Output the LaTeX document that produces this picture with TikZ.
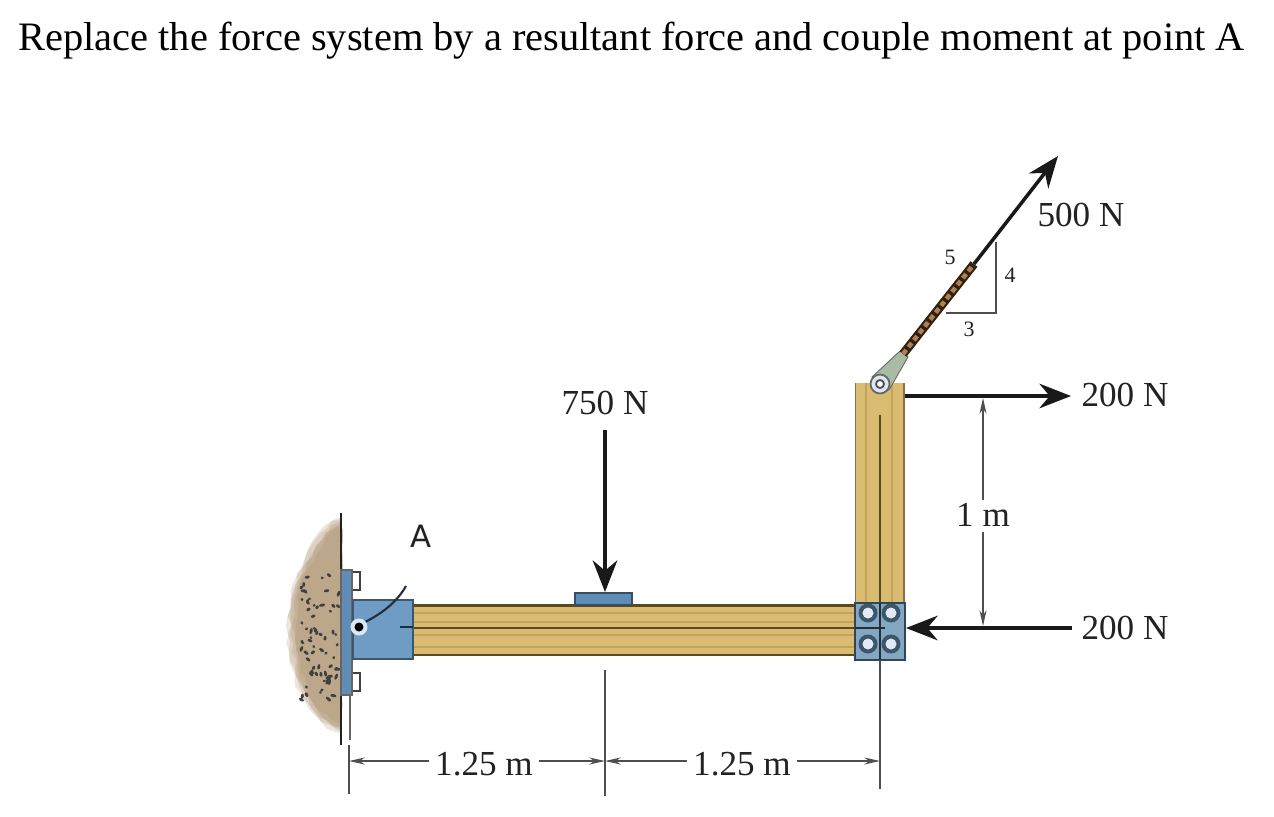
\documentclass[tikz,border=0pt]{standalone}
\usepackage{fontspec}
\setmainfont{Liberation Serif}
\newfontfamily\labelsans{DejaVu Sans}
\usetikzlibrary{arrows.meta,decorations.pathmorphing}
\definecolor{wood}{HTML}{D9BC72}
\definecolor{wooddark}{HTML}{C4A35C}
\definecolor{woodline}{HTML}{5A4A20}
\definecolor{steelblue}{HTML}{6E9CC4}
\definecolor{plateblue}{HTML}{5F8DB5}
\definecolor{jointblue}{HTML}{84A8C2}
\definecolor{soil}{HTML}{B89F80}
\definecolor{inkc}{HTML}{222222}
\definecolor{strap}{HTML}{A9BBA5}
\tikzset{
  lab/.style={font=\fontsize{20}{22}\selectfont,text=inkc,inner sep=0pt},
  tiny lab/.style={font=\fontsize{12.5}{14}\selectfont,text=inkc,inner sep=0pt},
  force/.style={draw=black!90,line width=2pt,-{Stealth[length=18pt,width=14pt]}},
  dim/.style={draw=inkc!80,line width=0.7pt},
  dimarrow/.style={dim,-{Stealth[length=9pt,width=4pt]}},
  woodbar/.style={fill=wood,draw=none},
  grain/.style={draw=wooddark,line width=1.2pt},
  darkedge/.style={draw=woodline,line width=1.2pt},
}
\begin{document}
\begin{tikzpicture}[x=0.02cm,y=-0.02cm]
\useasboundingbox (0,0) rectangle (1274,816);
\fill[white] (0,0) rectangle (1274,816);

\node[font=\fontsize{23}{26}\selectfont,text=black,inner sep=0pt,anchor=west] (title) at (18,41) {Replace the force system by a resultant force and couple moment at point A};

% soil
\pgfmathsetseed{11}
\foreach \g/\o in {3/0.25,1/0.3,-1/0.35,-3/0.45,-6/0.5}{
  \fill[soil,opacity=\o,decorate,decoration={random steps,segment length=5pt,amplitude=1.2pt}]
     (341,{520-\g}) .. controls ({322-\g},{528-\g}) and ({306-\g},555) .. ({294-\g},590)
     .. controls ({285-\g},640) and ({292-\g},{712+\g}) .. (341,{730+\g}) -- cycle;
}
\foreach \i in {1,...,70}{
  \pgfmathsetmacro{\px}{rnd*38+301}
  \pgfmathsetmacro{\py}{rnd*128+575}
  \pgfmathsetmacro{\pr}{rnd*180}
  \pgfmathsetmacro{\ps}{rnd*0.035+0.03}
  \fill[black!75,rotate around={\pr:(\px,\py)}] (\px,\py) ellipse [x radius=\ps cm,y radius=0.03cm];
}

% wall line and plate
\coordinate (wallT) at (341,513); \coordinate (wallB) at (341,745);
\draw[inkc,line width=0.9pt] (wallT) -- (wallB);
\draw[inkc!70,line width=0.8pt] (350,695) -- (350,740);
\filldraw[fill=white,draw=black!75,line width=1pt] (352,572) rectangle (360,590);
\filldraw[fill=white,draw=black!75,line width=1pt] (352,673) rectangle (360,691);
\filldraw[fill=plateblue,draw=black!60,line width=0.7pt] (341,570) rectangle (352,695);
% blue block
\filldraw[fill=steelblue,draw=black!45!steelblue,line width=1pt] (353,600) rectangle (413,659);
\draw[black!70!steelblue,line width=0.9pt] (400,627) -- (413,627);

% horizontal beam
\fill[woodbar] (414,605) rectangle (856,655);
\foreach \yy in {613,622,635,647}{\draw[grain] (414,\yy) -- (856,\yy);}
\draw[darkedge] (414,605.5) -- (856,605.5);
\draw[darkedge] (414,655) -- (856,655);
\draw[darkedge] (414,628) -- (856,628);

% vertical beam
\fill[woodbar] (855,383) rectangle (904,604);
\foreach \xx in {866,892}{\draw[grain] (\xx,383) -- (\xx,604);}
\draw[wooddark!70!black,line width=0.7pt] (855.5,383) -- (855.5,604);
\draw[wooddark!70!black,line width=0.7pt] (904,383) -- (904,604);
\draw[woodline,line width=0.9pt] (880,415) -- (880,604);

% joint plate and bolts
\filldraw[fill=jointblue,draw=black!55!steelblue,line width=1pt] (855,603) rectangle (905,660);
\draw[black!70!steelblue,line width=1pt] (855,628) -- (885,628);
\draw[black!70!steelblue,line width=0.8pt] (880,603) -- (880,660);
\foreach \bx/\by in {868/613,891/613,868/644,891/644}{
  \fill[black!45!steelblue] (\bx,\by) circle [radius=0.19cm];
  \fill[white!80!steelblue] (\bx,\by) circle [radius=0.11cm];
}

% pad under the load
\filldraw[fill=plateblue,draw=black!50!steelblue,line width=0.7pt] (575,593) rectangle (632,605);

% strap, cable
\coordinate (pin) at (880,384);
\coordinate (strapEnd) at (903,354);
\coordinate (cableEnd) at (974,264);
\coordinate (tip) at (1058,156);
\fill[strap,draw=black!60,line width=0.5pt] (872,377) -- (900,351) -- (908,357) -- (889,390) -- cycle;
\draw[black!75!brown,line width=5pt] (strapEnd) -- (cableEnd);
\draw[brown!70!gray,line width=2.6pt,dash pattern=on 3pt off 2pt] (strapEnd) -- (cableEnd);
\filldraw[fill=white!75!steelblue,draw=black!60,line width=1pt] (pin) circle [radius=0.19cm];
\draw[black!70,line width=1pt,fill=white] (pin) circle [radius=0.08cm];

% pin A
\draw[black!70!steelblue,line width=1.2pt] (365,622) .. controls (385,612) and (398,600) .. (406,586);
\fill[white!75!steelblue] (359,627) circle [radius=0.17cm];
\fill[black] (359,627) circle [radius=0.09cm];
\node[font=\fontsize{17.5}{20}\labelsans,text=inkc,inner sep=0pt] (A) at (421,536) {A};

% loads
\node[lab] (l750) at (605,403) {750 N};
\coordinate (padTop) at (605,592);
\coordinate (s750) at (605,430);
\draw[force] (s750) -- (padTop);

\draw[force] (cableEnd) -- (tip);
\node[lab] (l500) at (1081,215) {500 N};

\coordinate (u1) at (905,396); \coordinate (u2) at (1071,396);
\draw[force] (u1) -- (u2);
\node[lab] (u200) at (1125,395) {200 N};
\coordinate (d1) at (1072,628); \coordinate (d2) at (906,628);
\draw[force] (d1) -- (d2);
\node[lab] (d200) at (1125,628) {200 N};

% slope triangle
\coordinate (t1) at (996,242); \coordinate (t2) at (996,313); \coordinate (t3) at (946,313);
\draw[inkc!80,line width=1pt] (t1) -- (t2) -- (t3);
\node[tiny lab] (n5) at (950,257) {5};
\node[tiny lab] (n4) at (1010,275) {4};
\node[tiny lab] (n3) at (969,329) {3};

% 1 m dimension
\node[lab] (m1) at (983,515) {1 m};
\coordinate (mt) at (983,398); \coordinate (mb) at (983,626);
\draw[dimarrow] (m1.north) ++(0,-3) -- (mt);
\draw[dimarrow] (m1.south) ++(0,5) -- (mb);

% bottom dimensions
\coordinate (e1a) at (349,745); \coordinate (e1b) at (349,794);
\coordinate (e2a) at (605,670); \coordinate (e2b) at (605,796);
\coordinate (e3a) at (880,660); \coordinate (e3b) at (880,789);
\draw[dim] (e1a) -- (e1b); \draw[dim] (e2a) -- (e2b); \draw[dim] (e3a) -- (e3b);
\node[lab] (w1) at (484,764) {1.25 m};
\node[lab] (w2) at (742,764) {1.25 m};
\coordinate (a1) at (349,761); \coordinate (a2) at (605,761); \coordinate (a3) at (880,761);
\draw[dimarrow] (w1.west |- a1) ++(-6,0) -- (a1);
\draw[dimarrow] (w1.east |- a1) ++(6,0) -- (a2);
\draw[dimarrow] (w2.west |- a1) ++(-6,0) -- (a2);
\draw[dimarrow] (w2.east |- a1) ++(6,0) -- (a3);
\end{tikzpicture}
\end{document}
